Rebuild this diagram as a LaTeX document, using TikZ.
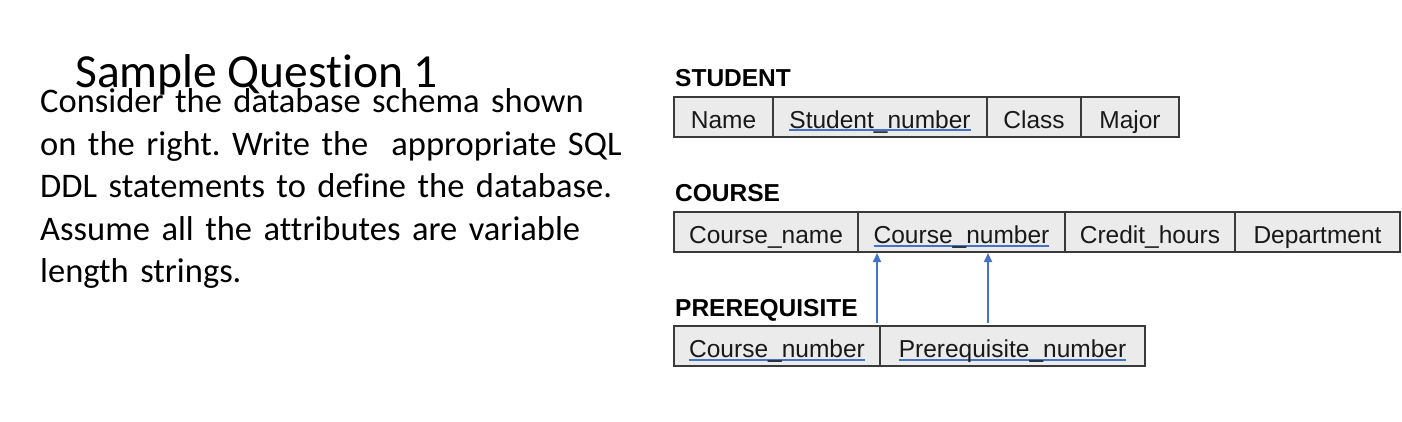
\documentclass[tikz,border=0pt]{standalone}
\usepackage{fontspec}
\setmainfont{Carlito}[Ligatures=CommonOff]
\newfontfamily\tablefont{Liberation Sans}
\usetikzlibrary{arrows.meta}
\frenchspacing
\definecolor{keyblue}{HTML}{4472C4}
\definecolor{cellgray}{HTML}{EBEBEB}
\definecolor{rulegray}{HTML}{3A3A3A}
\newcommand{\keyattr}[1]{\setbox0=\hbox{#1}\rlap{\color{keyblue}\rule[-3pt]{\wd0}{2pt}}\box0}
\tikzstyle{cell} = [rectangle, anchor=north west, minimum height=40pt, draw=rulegray, line width=1.5pt, fill=cellgray, outer sep=0pt, inner sep=0pt, text height=23pt, text depth=0pt, text=black!90, font=\tablefont\fontsize{24.5}{28}\selectfont]
\tikzstyle{relname} = [anchor=base west, inner sep=0pt, font=\tablefont\bfseries\fontsize{24.5}{28}\selectfont]
\tikzstyle{fkarrow} = [draw=keyblue, line width=2pt, -{Triangle[width=8pt,length=9pt]}, shorten <=3pt, shorten >=1pt]

\begin{document}
\begin{tikzpicture}[x=1pt,y=1pt]
    \useasboundingbox (0,0) rectangle (1402,-422);
    % question text
    \node (title) [anchor=base west, inner sep=0pt, font=\fontsize{47.5}{50}\selectfont] at (75,-88) {Sample Question 1};
    \node (question) [anchor=base west, inner sep=0pt, text width=620pt, align=left, font=\fontsize{34.5}{42.5}\selectfont] at (40,-113) {Consider the database schema shown\\on the right. Write the \ appropriate SQL\\DDL statements to define the database.\\Assume all the attributes are variable\\length strings.};

    % STUDENT
    \node (student) [relname] at (675,-87) {STUDENT};
    \node (sname) [cell, minimum width=99pt] at (674,-97) {Name};
    \node (snumber) [cell, minimum width=214pt] at (773,-97) {\keyattr{Student\_number}};
    \node (sclass) [cell, minimum width=94pt] at (987,-97) {Class};
    \node (smajor) [cell, minimum width=98pt] at (1081,-97) {Major};

    % COURSE
    \node (course) [relname] at (675,-202) {COURSE};
    \node (cname) [cell, minimum width=184pt] at (674,-212) {Course\_name};
    \node (cnumber) [cell, minimum width=207pt] at (858,-212) {\keyattr{Course\_number}};
    \node (chours) [cell, minimum width=170pt] at (1065,-212) {Credit\_hours};
    \node (cdept) [cell, minimum width=165pt] at (1235,-212) {Department};

    % PREREQUISITE
    \node (prereq) [relname] at (675,-316) {PREREQUISITE};
    \node (pcnumber) [cell, minimum width=206pt] at (674,-326) {\keyattr{Course\_number}};
    \node (ppnumber) [cell, minimum width=265pt] at (880,-326) {\keyattr{Prerequisite\_number}};

    \coordinate (fk1) at ([xshift=-3pt]pcnumber.north east);
    \coordinate (fk2) at ([xshift=108pt]ppnumber.north west);
    \draw[fkarrow] (fk1) -- (fk1 |- cnumber.south);
    \draw[fkarrow] (fk2) -- (fk2 |- cnumber.south);
\end{tikzpicture}
\end{document}
